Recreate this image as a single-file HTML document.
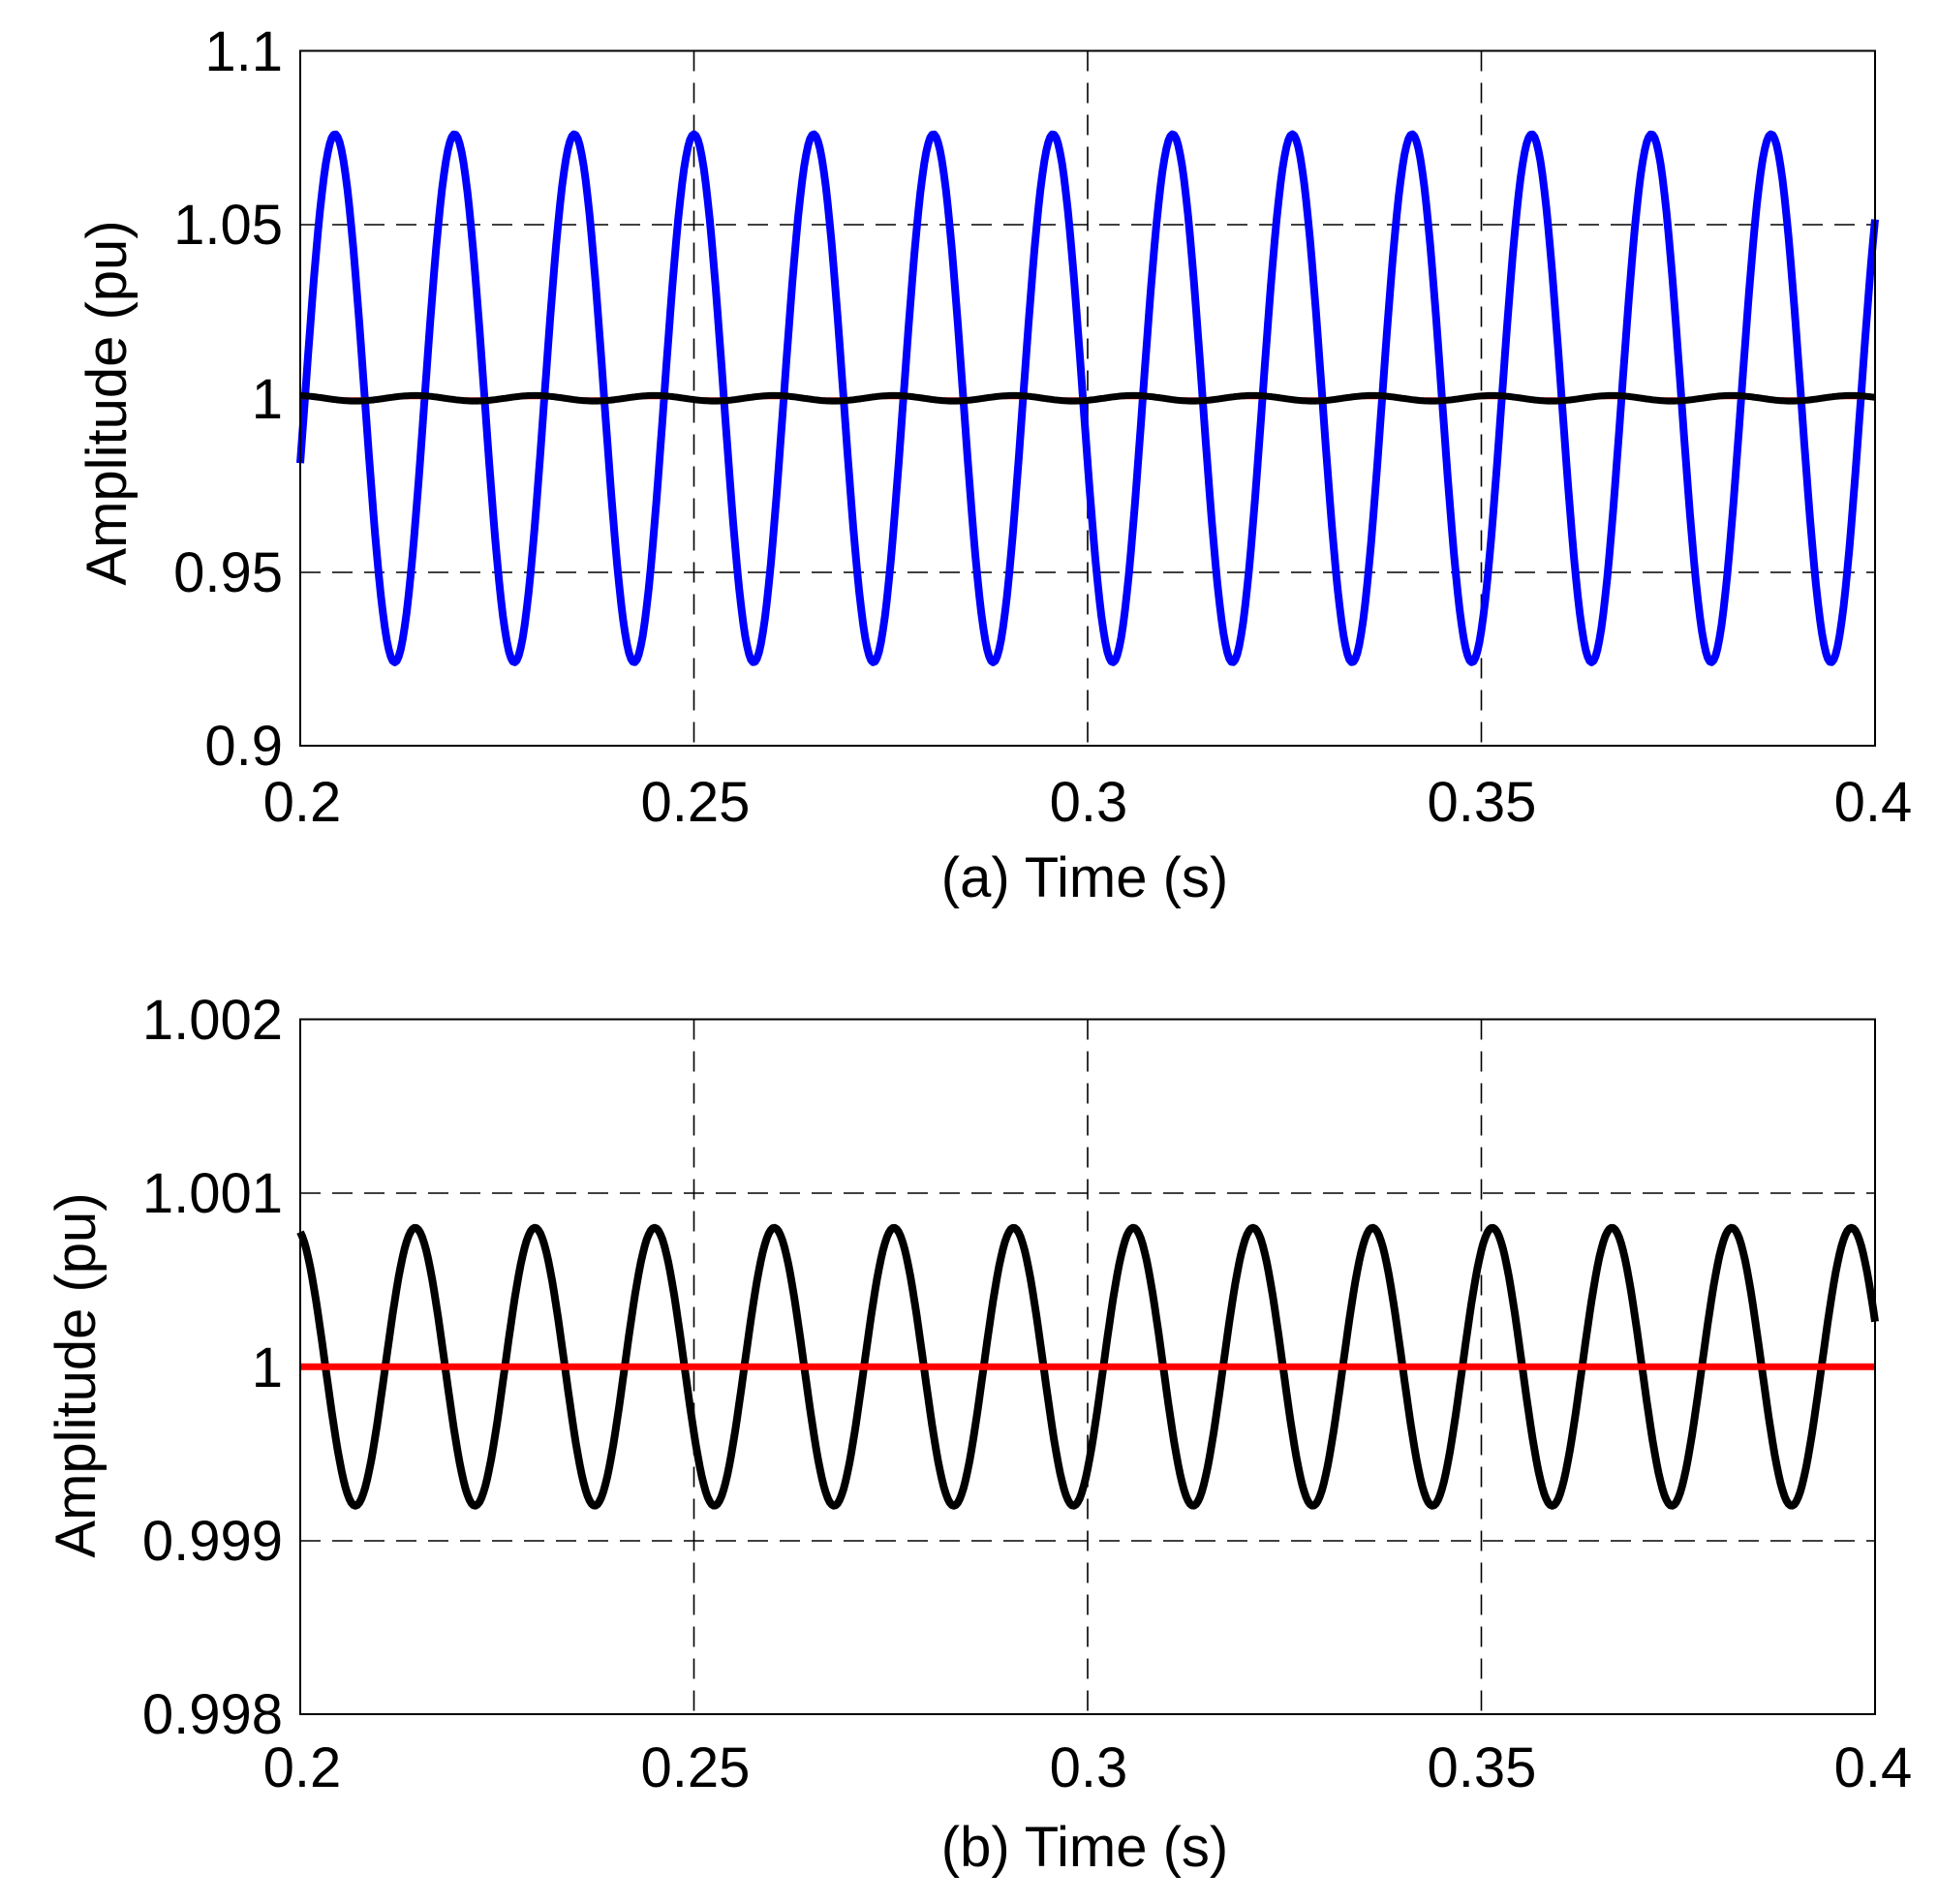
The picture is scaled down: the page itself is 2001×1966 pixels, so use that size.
<!DOCTYPE html>
<html><head><meta charset="utf-8"><style>
html,body{margin:0;padding:0;background:#fff;}
svg{display:block;}
text{font-family:"Liberation Sans",Arial,sans-serif;fill:#000;}
</style></head><body>
<svg id="s" width="2001" height="1966" viewBox="0 0 2001 1966" xmlns="http://www.w3.org/2000/svg">
<rect width="2001" height="1966" fill="#fff"/>
<g stroke="#000" stroke-width="1.6" stroke-dasharray="21,12" fill="none">
<line x1="310" y1="232" x2="1936" y2="232"/>
<line x1="310" y1="591" x2="1936" y2="591"/>
<line x1="716.5" y1="52.5" x2="716.5" y2="770"/>
<line x1="1123" y1="52.5" x2="1123" y2="770"/>
<line x1="1529.5" y1="52.5" x2="1529.5" y2="770"/>
<line x1="310" y1="1232" x2="1936" y2="1232"/>
<line x1="310" y1="1591" x2="1936" y2="1591"/>
<line x1="716.5" y1="1052.5" x2="716.5" y2="1770"/>
<line x1="1123" y1="1052.5" x2="1123" y2="1770"/>
<line x1="1529.5" y1="1052.5" x2="1529.5" y2="1770"/>
</g>
<g id="series"></g>
<rect x="310" y="52.5" width="1626" height="717.5" fill="none" stroke="#000" stroke-width="2"/>
<rect x="310" y="1052.5" width="1626" height="717.5" fill="none" stroke="#000" stroke-width="2"/>
<g font-size="58" text-anchor="end">
<text x="292" y="73">1.1</text>
<text x="292" y="252">1.05</text>
<text x="292" y="432">1</text>
<text x="292" y="611">0.95</text>
<text x="292" y="790">0.9</text>
<text x="292" y="1073">1.002</text>
<text x="292" y="1252">1.001</text>
<text x="292" y="1432">1</text>
<text x="292" y="1611">0.999</text>
<text x="292" y="1790">0.998</text>
</g>
<g font-size="58" text-anchor="middle">
<text x="312" y="848">0.2</text>
<text x="718" y="848">0.25</text>
<text x="1124" y="848">0.3</text>
<text x="1530" y="848">0.35</text>
<text x="1934" y="848">0.4</text>
<text x="312" y="1845">0.2</text>
<text x="718" y="1845">0.25</text>
<text x="1124" y="1845">0.3</text>
<text x="1530" y="1845">0.35</text>
<text x="1934" y="1845">0.4</text>
<text x="1120" y="926">(a) Time (s)</text>
<text x="1120" y="1927">(b) Time (s)</text>
<text transform="translate(130,416) rotate(-90)">Amplitude (pu)</text>
<text transform="translate(98,1420) rotate(-90)">Amplitude (pu)</text>
</g>
</svg>
<script>
(function(){
var g=document.getElementById('series'),NS='http://www.w3.org/2000/svg';
var P=0.0152;
function X(t){return 310+(t-0.2)/0.2*1626;}
function pts(f,Y){var a=[];for(var i=0;i<=800;i++){var t=0.2+i*0.2/800;a.push(X(t).toFixed(1)+','+Y(f(t)).toFixed(1));}return a.join(' ');}
function add(p,c,w){var e=document.createElementNS(NS,'polyline');e.setAttribute('points',p);e.setAttribute('fill','none');e.setAttribute('stroke',c);e.setAttribute('stroke-width',w);e.setAttribute('stroke-linejoin','round');g.appendChild(e);}
var blue=function(t){return 1+0.076*Math.cos(2*Math.PI*(t-0.2044)/P);};
var blk=function(t){return 1+0.0008*Math.cos(2*Math.PI*(t-0.1994)/P);};
var Y1=function(v){return 411.25-(v-1)*3587.5;};
var Y2=function(v){return 1411.25-(v-1)*179375;};
add(pts(blue,Y1),'#0000ff',8);
add(pts(function(){return 1;},Y1),'#ff0000',2);
add(pts(blk,Y1),'#000',7);
add(pts(blk,Y2),'#000',8);
add(pts(function(){return 1;},Y2),'#ff0000',7);
})();
</script>
</body></html>
